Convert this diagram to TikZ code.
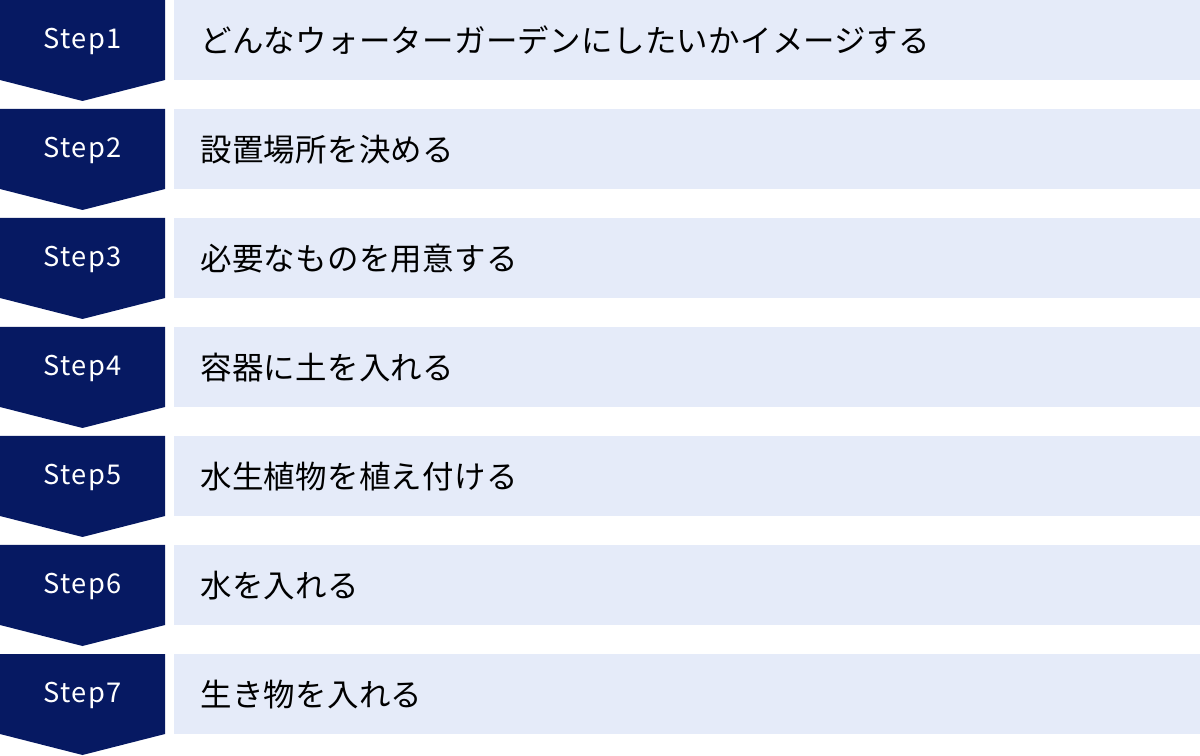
\documentclass[tikz,border=0pt]{standalone}
\usepackage{fontspec}
\setmainfont{Noto Sans CJK JP}[LetterSpace=1]
\newfontfamily\stepfont{Noto Sans CJK JP}[LetterSpace=5]
\usepackage{xcolor}
\definecolor{stepnavy}{HTML}{061962}
\definecolor{taskpale}{HTML}{E5EBF9}
\tikzstyle{chevron} = [fill=stepnavy]
\tikzstyle{steplabel} = [anchor=base, text=white, font=\stepfont\fontsize{15.5pt}{18pt}\selectfont]
\tikzstyle{taskbox} = [rectangle, anchor=north west, fill=taskpale, minimum width=20.52cm, minimum height=1.6cm, inner xsep=0.52cm, text width=19.48cm, align=left, font=\fontsize{17.9pt}{20pt}\selectfont]

\begin{document}
\begin{tikzpicture}[x=0.02cm, y=-0.02cm]

\useasboundingbox (0, 0) rectangle (1200, 756);

\fill [chevron] (0, 0) -- (165, 0) -- (165, 80) -- (82.5, 101) -- (0, 80) -- cycle;
\fill [chevron] (0, 109) -- (165, 109) -- (165, 189) -- (82.5, 210) -- (0, 189) -- cycle;
\fill [chevron] (0, 218) -- (165, 218) -- (165, 298) -- (82.5, 319) -- (0, 298) -- cycle;
\fill [chevron] (0, 327) -- (165, 327) -- (165, 407) -- (82.5, 428) -- (0, 407) -- cycle;
\fill [chevron] (0, 436) -- (165, 436) -- (165, 516) -- (82.5, 537) -- (0, 516) -- cycle;
\fill [chevron] (0, 545) -- (165, 545) -- (165, 625) -- (82.5, 646) -- (0, 625) -- cycle;
\fill [chevron] (0, 654) -- (165, 654) -- (165, 734) -- (82.5, 755) -- (0, 734) -- cycle;

\node at (82.5, 48.5) (step1) [steplabel] {Step1};
\node at (82.5, 157.5) (step2) [steplabel] {Step2};
\node at (82.5, 266.5) (step3) [steplabel] {Step3};
\node at (82.5, 375.5) (step4) [steplabel] {Step4};
\node at (82.5, 484.5) (step5) [steplabel] {Step5};
\node at (82.5, 593.5) (step6) [steplabel] {Step6};
\node at (82.5, 702.5) (step7) [steplabel] {Step7};

\node at (174, 0) (task1) [taskbox] {どんなウォーターガーデンにしたいかイメージする};
\node at (174, 109) (task2) [taskbox] {設置場所を決める};
\node at (174, 218) (task3) [taskbox] {必要なものを用意する};
\node at (174, 327) (task4) [taskbox] {容器に土を入れる};
\node at (174, 436) (task5) [taskbox] {水生植物を植え付ける};
\node at (174, 545) (task6) [taskbox] {水を入れる};
\node at (174, 654) (task7) [taskbox] {生き物を入れる};

\end{tikzpicture}
\end{document}
